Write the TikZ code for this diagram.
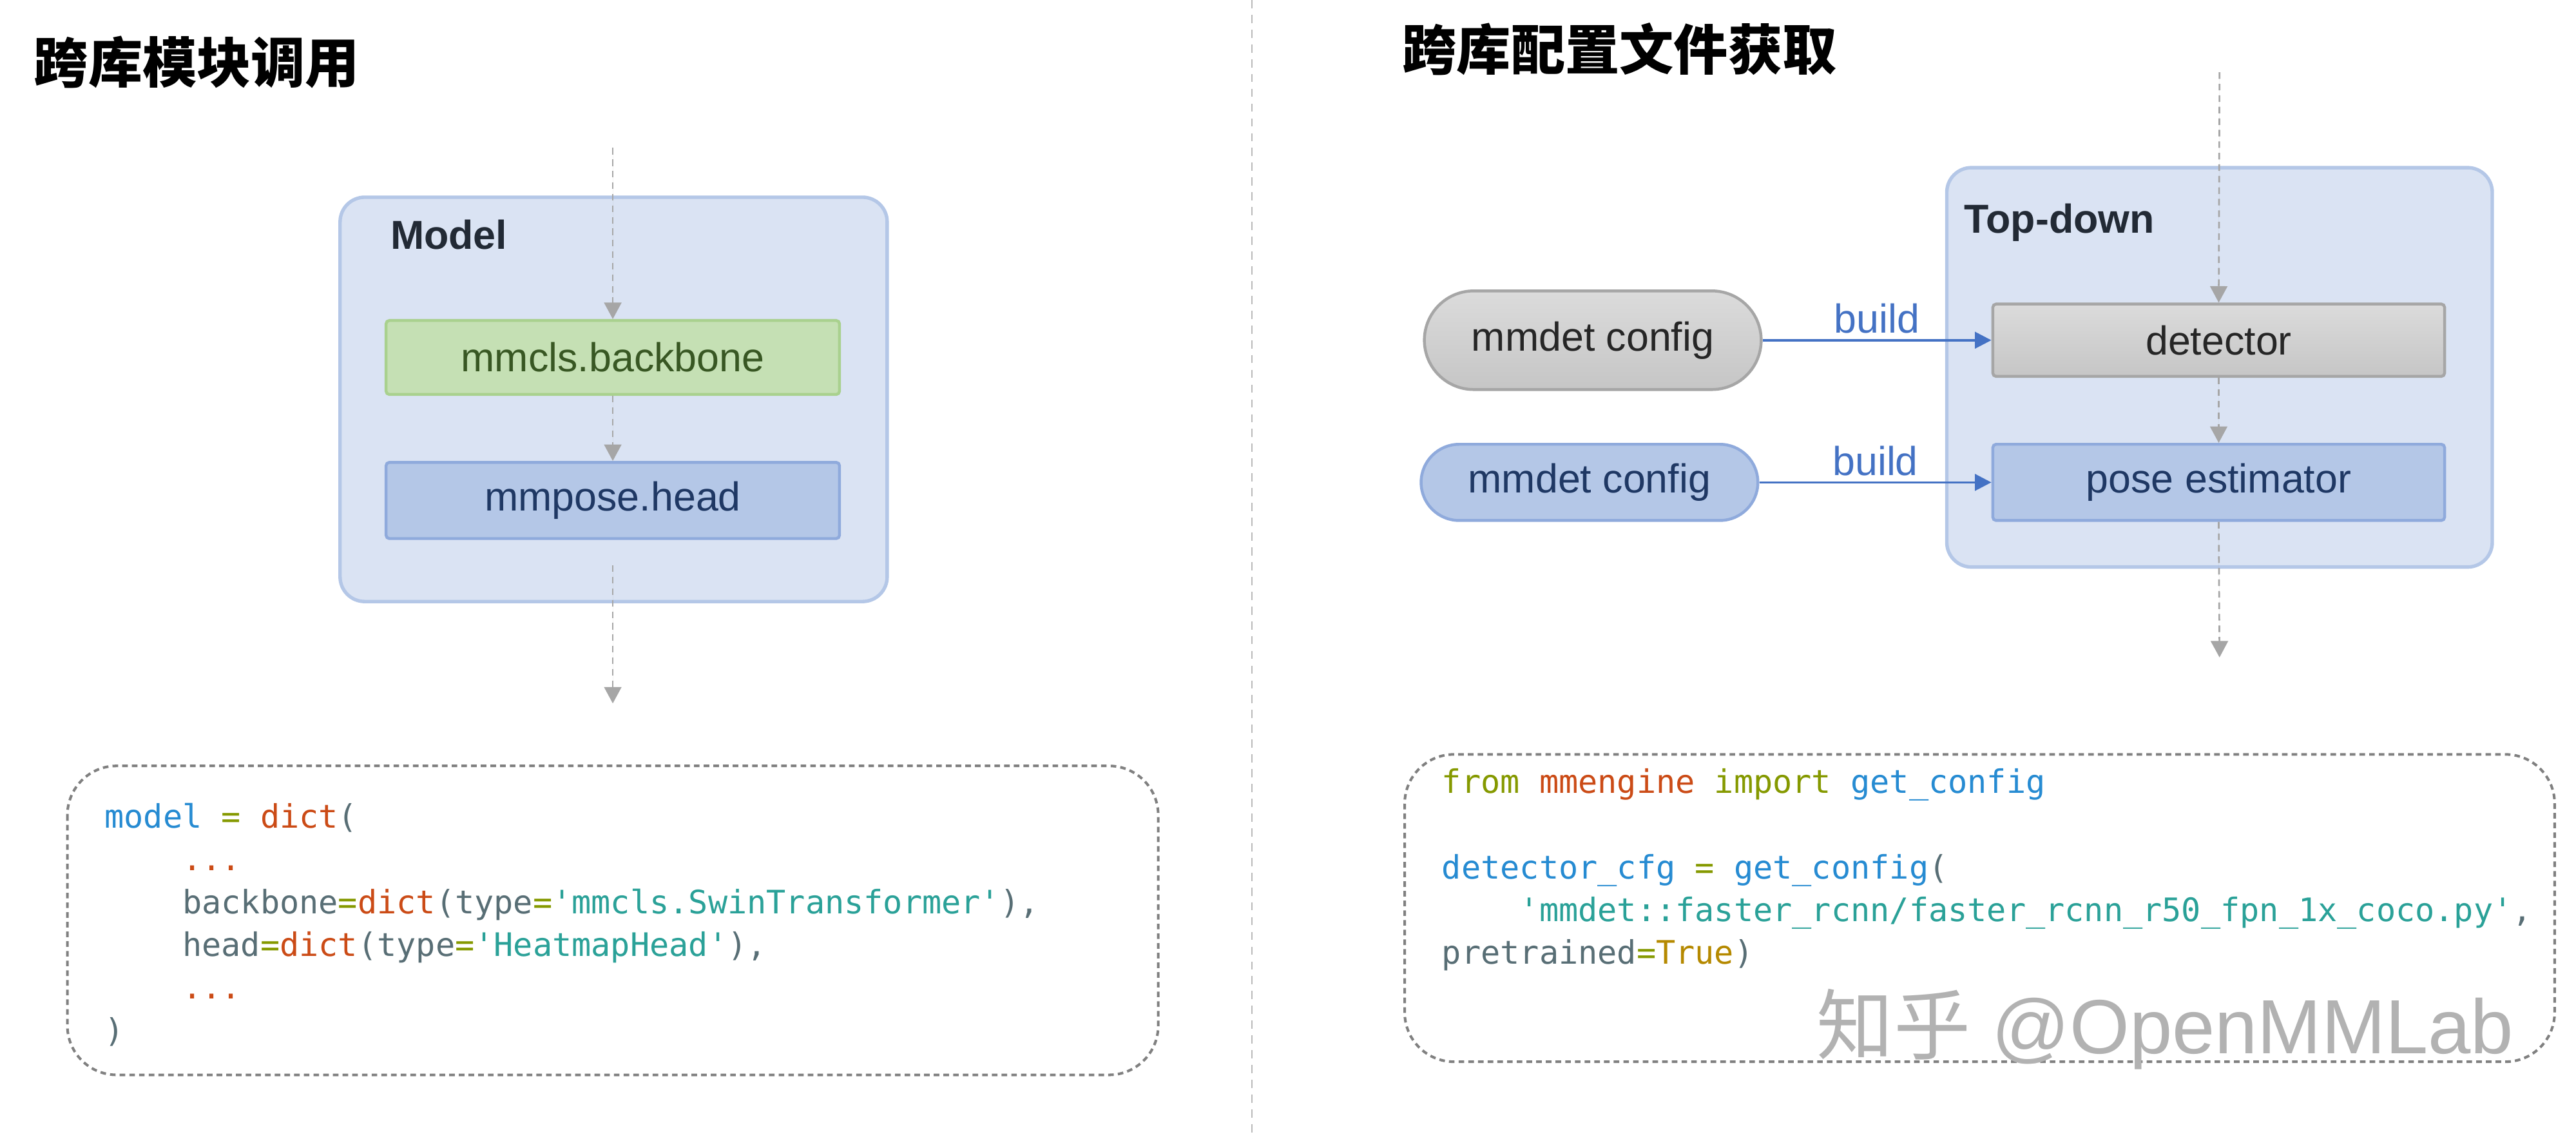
\documentclass[tikz,border=0pt]{standalone}
\usepackage{fontspec}
\setmainfont{Liberation Sans}
\setmonofont{DejaVu Sans Mono}
\newfontfamily\cjk{Noto Sans CJK SC}
\usepackage{xcolor}
\usetikzlibrary{positioning,arrows.meta,shapes.misc}

\definecolor{grpfill}{HTML}{DAE3F3}
\definecolor{grpborder}{HTML}{B4C7E7}
\definecolor{grnfill}{HTML}{C5E0B4}
\definecolor{grnborder}{HTML}{A9D18E}
\definecolor{grntext}{HTML}{385723}
\definecolor{blufill}{HTML}{B4C7E7}
\definecolor{bluborder}{HTML}{8FAADC}
\definecolor{blutext}{HTML}{1F3864}
\definecolor{gryborder}{HTML}{A6A6A6}
\definecolor{grytext}{HTML}{262626}
\definecolor{lbltext}{HTML}{222A35}
\definecolor{flowgray}{HTML}{A6A6A6}
\definecolor{buildblue}{HTML}{4472C4}
\definecolor{codegray}{HTML}{808080}
\definecolor{cblue}{HTML}{268BD2}
\definecolor{corange}{HTML}{CB4B16}
\definecolor{cgreen}{HTML}{859900}
\definecolor{cteal}{HTML}{2AA198}
\definecolor{cgray}{HTML}{586E75}
\definecolor{cyellow}{HTML}{B58900}

\newcommand{\cdBlue}[1]{\textcolor{cblue}{#1}}
\newcommand{\cdOrange}[1]{\textcolor{corange}{#1}}
\newcommand{\cdGreen}[1]{\textcolor{cgreen}{#1}}
\newcommand{\cdTeal}[1]{\textcolor{cteal}{#1}}
\newcommand{\cdGray}[1]{\textcolor{cgray}{#1}}
\newcommand{\cdYellow}[1]{\textcolor{cyellow}{#1}}
\newcommand{\ind}{\hphantom{0000}}

\begin{document}
\begin{tikzpicture}[
  titletext/.style={font=\cjk\bfseries\fontsize{9.4}{11}\selectfont, anchor=west, inner sep=0},
  groupbox/.style={draw=grpborder, fill=grpfill, rounded corners=0.15cm, line width=0.6pt},
  grouplabel/.style={font=\bfseries\fontsize{7}{8}\selectfont, text=lbltext, anchor=base west, inner sep=0},
  modbox/.style={draw=#1border, fill=#1fill, text=#1text, line width=0.5pt, rounded corners=0.02cm,
    minimum width=2.76cm, minimum height=0.45cm, font=\fontsize{7}{8}\selectfont},
  grybox/.style={draw=gryborder, top color=gray!28, bottom color=gray!45, text=grytext, line width=0.5pt,
    font=\fontsize{7}{8}\selectfont},
  pill/.style={rounded rectangle, minimum width=2.05cm, inner xsep=0pt},
  flowarr/.style={-{Triangle[width=0.105cm,length=0.1cm]}, draw=flowgray, fill=flowgray,
    dash pattern=on 0.04cm off 0.03cm, line width=0.3pt},
  buildarr/.style={-{Triangle[width=0.1cm,length=0.1cm]}, draw=buildblue, fill=buildblue, line width=0.4pt},
  buildlbl/.style={font=\fontsize{7}{8}\selectfont, text=buildblue, inner sep=0.035cm},
  codebox/.style={draw=codegray, dash pattern=on 0.034cm off 0.025cm, rounded corners=0.3cm, line width=0.45pt},
  codetext/.style={font=\ttfamily\fontsize{5.6}{7.4}\selectfont, align=left, anchor=north west, inner sep=0},
  divider/.style={draw=gray!55, dash pattern=on 0.05cm off 0.04cm, line width=0.3pt}
]
  \useasboundingbox (0,0) rectangle (15.68,-6.93);

  % 分隔线
  \draw[divider] (7.62,0) -- (7.62,-6.93);

  % 跨库模块调用
  \node[titletext] (ttlL) at (0.20,-0.38) {跨库模块调用};
  \node[groupbox, minimum width=3.33cm, minimum height=2.46cm] (model) at (3.735,-2.43) {};
  \node[grouplabel] (modellbl) at (2.37,-1.515) {Model};
  \node[modbox=grn] (backbone) at (3.73,-2.175) {mmcls.backbone};
  \node[modbox=blu] (head) at (3.73,-3.045) {mmpose.head};

  \coordinate (inL) at (3.73,-0.90);
  \coordinate (outLa) at (3.73,-3.44);
  \coordinate (outLb) at (3.73,-4.28);
  \draw[flowarr] (inL) -- (backbone.north);
  \draw[flowarr] (backbone.south) -- (head.north);
  \draw[flowarr] (outLa) -- (outLb);

  \draw[codebox] (0.41,-4.66) rectangle (7.05,-6.54);
  \node[codetext] (codeL) at (0.63,-4.88) {%
\cdBlue{model} \cdGreen{=} \cdOrange{dict}\cdGray{(}\\
\ind\cdOrange{...}\\
\ind\cdGray{backbone}\cdGreen{=}\cdOrange{dict}\cdGray{(type}\cdGreen{=}\cdTeal{'mmcls.SwinTransformer'}\cdGray{),}\\
\ind\cdGray{head}\cdGreen{=}\cdOrange{dict}\cdGray{(type}\cdGreen{=}\cdTeal{'HeatmapHead'}\cdGray{),}\\
\ind\cdOrange{...}\\
\cdGray{)}};

  % 跨库配置文件获取
  \node[titletext] (ttlR) at (8.53,-0.30) {跨库配置文件获取};
  \node[groupbox, minimum width=3.32cm, minimum height=2.43cm] (topdown) at (13.51,-2.235) {};
  \node[grouplabel] (topdownlbl) at (11.95,-1.417) {Top-down};
  \node[grybox, minimum width=2.75cm, minimum height=0.44cm, rounded corners=0.02cm] (detector) at (13.505,-2.07) {detector};
  \node[modbox=blu, minimum width=2.75cm] (pose) at (13.505,-2.935) {pose estimator};
  \node[grybox, pill, minimum height=0.60cm] (detcfg) at (9.695,-2.07) {mmdet config};
  \node[modbox=blu, pill, minimum width=2.05cm, rounded corners=0pt] (posecfg) at (9.675,-2.935) {mmdet config};

  \draw[buildarr] (detcfg.east) -- node[buildlbl, above] {build} (detector.west);
  \draw[buildarr] (posecfg.east) -- node[buildlbl, above] {build} (pose.west);

  \coordinate (inR) at (13.51,-0.44);
  \coordinate (outR) at (13.51,-4.00);
  \draw[flowarr] (inR) -- (detector.north);
  \draw[flowarr] (detector.south) -- (pose.north);
  \draw[flowarr] (pose.south) -- (outR);

  \draw[codebox] (8.55,-4.59) rectangle (15.55,-6.46);
  \node[codetext] (codeR) at (8.77,-4.67) {%
\cdGreen{from} \cdOrange{mmengine} \cdGreen{import} \cdBlue{get\_config}\\[7.4pt]
\cdBlue{detector\_cfg} \cdGreen{=} \cdBlue{get\_config}\cdGray{(}\\
\ind\cdTeal{'mmdet::faster\_rcnn/faster\_rcnn\_r50\_fpn\_1x\_coco.py'}\cdGray{,}\\
\cdGray{pretrained}\cdGreen{=}\cdYellow{True}\cdGray{)}};

  \node[font=\fontsize{13.3}{14}\selectfont, text=gray!60, anchor=base, inner sep=0] (wmark) at (13.18,-6.41) {{\cjk 知乎} @OpenMMLab};
\end{tikzpicture}
\end{document}
